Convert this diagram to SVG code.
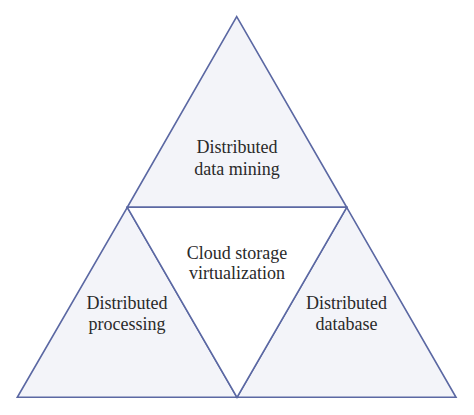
<svg xmlns="http://www.w3.org/2000/svg" width="474" height="415" viewBox="0 0 474 415">
<style>
.tri{fill:#f3f4f9;stroke:#5b68a3;stroke-width:1.6;stroke-linejoin:miter}
.inner{fill:#ffffff;stroke:#5b68a3;stroke-width:1.6}
text{font-family:"Liberation Serif",serif;font-size:18px;fill:#2a2a2a;text-anchor:middle}
</style>
<rect width="474" height="415" fill="#ffffff"/>
<g id="top-triangle"><polygon class="tri" points="236.7,16.7 346.7,207.3 127.3,207.3"/><text x="237" y="153">Distributed</text><text x="237" y="175">data mining</text></g>
<g id="left-triangle"><polygon class="tri" points="127.3,207.3 237,397.3 17.3,397.3"/><text x="127" y="309">Distributed</text><text x="127" y="330">processing</text></g>
<g id="right-triangle"><polygon class="tri" points="346.7,207.3 456,397.3 237,397.3"/><text x="346.5" y="309">Distributed</text><text x="346.5" y="330">database</text></g>
<g id="center-triangle"><polygon class="inner" points="127.3,207.3 346.7,207.3 237,397.3"/><text x="237" y="259">Cloud storage</text><text x="237" y="279">virtualization</text></g>
</svg>
